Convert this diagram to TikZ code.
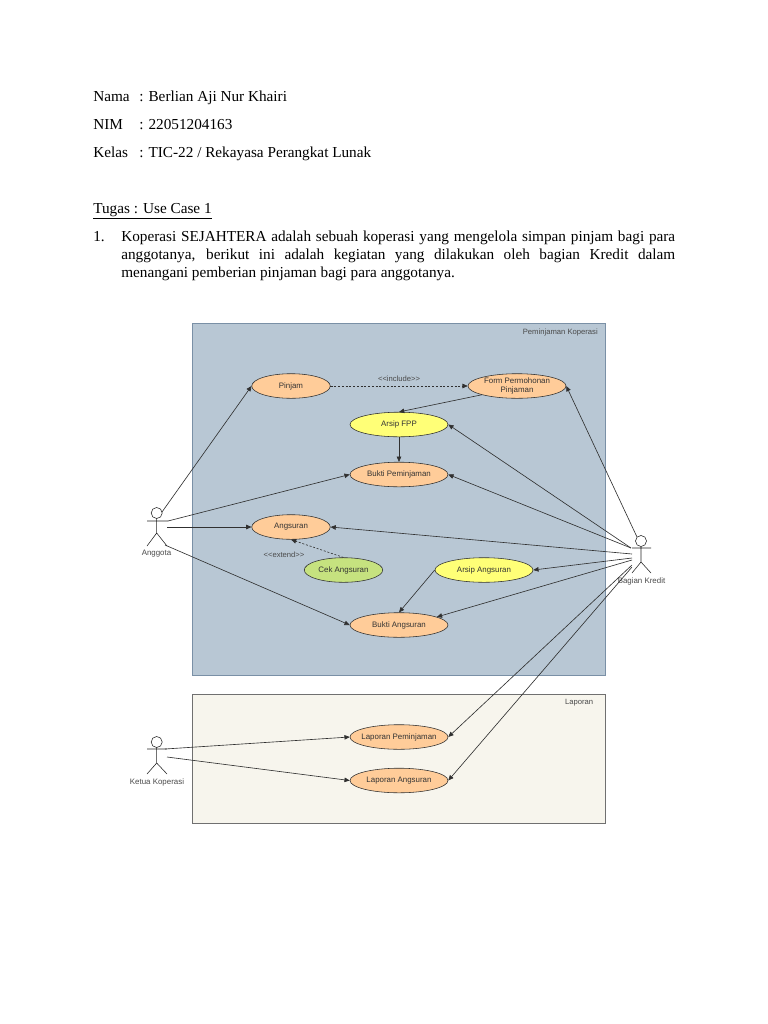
\documentclass[tikz,border=0pt]{standalone}
\usepackage{fontspec}
\setmainfont{Liberation Serif}
\newfontfamily\diagfont{Liberation Sans}
\usetikzlibrary{arrows.meta,shapes.geometric}
\definecolor{bluefill}{HTML}{B8C7D4}
\definecolor{blueedge}{HTML}{7A90A6}
\definecolor{creamfill}{HTML}{F7F5ED}
\definecolor{creamedge}{HTML}{707070}
\definecolor{orangefill}{HTML}{FFCC99}
\definecolor{yellowfill}{HTML}{FFFF77}
\definecolor{greenfill}{HTML}{C6E27F}
\definecolor{inkline}{HTML}{303030}
\definecolor{labelink}{HTML}{4A4A4A}
\tikzset{
  x=0.797pt,y=-0.797pt,
  doc/.style={anchor=base west,inner sep=0pt,font=\fontsize{12.15}{14.35}\selectfont,text=black},
  frame/.style={draw,line width=0.7pt,anchor=north west,inner sep=0pt},
  uc/.style={ellipse,draw=inkline,line width=0.45pt,inner xsep=-14pt,inner ysep=-7pt,minimum height=19.6pt,
    font=\diagfont\fontsize{6.3}{7.6}\selectfont,text=black!80,align=center},
  ucs/.style={uc,minimum width=62.5pt},
  ucl/.style={uc,minimum width=78.1pt},
  lab/.style={inner sep=0pt,font=\diagfont\fontsize{6.1}{8}\selectfont,text=labelink},
  actlab/.style={lab,font=\diagfont\fontsize{6.3}{8}\selectfont},
  assoc/.style={draw=inkline,line width=0.5pt,-{Triangle[length=4.2pt,width=3.6pt]}},
  dep/.style={assoc,dashed,dash pattern=on 1.6pt off 1.4pt},
  actor/.style={draw=black!85,line width=0.45pt},
  head/.style={circle,draw=black!85,line width=0.45pt,fill=white,minimum size=8.8pt,inner sep=0pt},
}
\begin{document}
\begin{tikzpicture}
\useasboundingbox (0,0) rectangle (768,1024);
\fill[white] (0,0) rectangle (768,1024);

% document text
\node[doc] (t1) at (93,101) {Nama};
\node[doc] (t1b) at (139,101) {: Berlian Aji Nur Khairi};
\node[doc] (t2) at (93,129) {NIM};
\node[doc] (t2b) at (139,129) {: 22051204163};
\node[doc] (t3) at (93,157) {Kelas};
\node[doc] (t3b) at (139,157) {: TIC-22 / Rekayasa Perangkat Lunak};
\node[doc] (t4) at (93,213) {\underline{Tugas : Use Case 1}};
\node[doc] (n1) at (93,241) {1.};
\node[doc,text width=441.5pt,align=justify] (para) at (121,241)
  {Koperasi SEJAHTERA adalah sebuah koperasi yang mengelola simpan pinjam bagi para\linebreak
   anggotanya, berikut ini adalah kegiatan yang dilakukan oleh bagian Kredit dalam\linebreak
   menangani pemberian pinjaman bagi para anggotanya.};

% frames
\node[frame,draw=blueedge,fill=bluefill,minimum height=280.5pt,minimum width=329.2pt] (fa) at (192,323) {};
\node[frame,draw=creamedge,fill=creamfill,minimum height=102.8pt,minimum width=329.2pt] (fb) at (192,694) {};
\node[lab,anchor=east] (fal) at (598,332.5) {Peminjaman Koperasi};
\node[lab,anchor=east] (fbl) at (593.5,702.5) {Laporan};

% use cases
\node[ucs,fill=orangefill] (pinjam) at (291,386) {Pinjam};
\node[ucl,fill=orangefill] (form) at (517,386) {Form Permohonan\\Pinjaman};
\node[ucl,fill=yellowfill] (afpp) at (399,424.5) {Arsip FPP};
\node[ucl,fill=orangefill] (bpem) at (399,474.5) {Bukti Peminjaman};
\node[ucs,fill=orangefill] (angs) at (291,527) {Angsuran};
\node[ucs,fill=greenfill] (cek) at (343.5,570) {Cek Angsuran};
\node[ucl,fill=yellowfill] (aang) at (484,570) {Arsip Angsuran};
\node[ucl,fill=orangefill] (bang) at (399,625) {Bukti Angsuran};
\node[ucl,fill=orangefill] (lpem) at (399,737) {Laporan Peminjaman};
\node[ucl,fill=orangefill] (lang) at (399,780.5) {Laporan Angsuran};

% actors
\node[head] (h1) at (156.7,513) {};
\draw[actor] (147,521) -- (168,521) (h1.south) -- (156.7,533) -- (147,546) (156.7,533) -- (167,546);
\node[actlab] (a1) at (156.5,554) {Anggota};
\node[head] (h2) at (641,541) {};
\draw[actor] (632,548) -- (651,548) (h2.south) -- (641,562) -- (632,573) (641,562) -- (651,573);
\node[actlab] (a2) at (641.5,581.5) {Bagian Kredit};
\node[head] (h3) at (156.7,742) {};
\draw[actor] (147,749) -- (167,749) (h3.south) -- (156.7,763) -- (147,774) (156.7,763) -- (167,774);
\node[actlab] (a3) at (157,782) {Ketua Koperasi};

% connector free ends
\coordinate (g1) at (162,512);
\coordinate (g2) at (168,521);
\coordinate (g3) at (167,527);
\coordinate (g4) at (165,545);
\coordinate (k1) at (637,537);
\coordinate (k2) at (631,548);
\coordinate (k3) at (632,554);
\coordinate (k4) at (632,558);
\coordinate (k5) at (632,560);
\coordinate (k6) at (632,565);
\coordinate (k7) at (632,567);
\coordinate (u1) at (165,749);
\coordinate (u2) at (167,757);

% connectors
\draw[assoc] (g1) -- (pinjam.west);
\draw[assoc] (g2) -- (bpem.west);
\draw[assoc] (g3) -- (angs.west);
\draw[assoc] (g4) -- (bang.west);
\draw[dep] (pinjam.east) -- node[lab,above=3.5pt] (inc) {<{}<include>{}>} (form.west);
\draw[assoc] (form.194) -- (afpp.north);
\draw[assoc] (afpp.south) -- (bpem.north);
\draw[assoc] (k1) -- (form.east);
\draw[assoc] (k2) -- (afpp.east);
\draw[assoc] (k2) -- (bpem.east);
\draw[assoc] (k3) -- (angs.east);
\draw[assoc] (k4) -- (aang.east);
\draw[assoc] (k5) -- (bang.12);
\draw[assoc] (aang.west) -- (bang.north);
\draw[dep] (cek.north) -- (angs.south);
\node[lab] (ext) at (284,555) {<{}<extend>{}>};
\draw[assoc] (k6) -- (lpem.east);
\draw[assoc] (k7) -- (lang.east);
\draw[assoc] (u1) -- (lpem.west);
\draw[assoc] (u2) -- (lang.west);
\end{tikzpicture}
\end{document}
